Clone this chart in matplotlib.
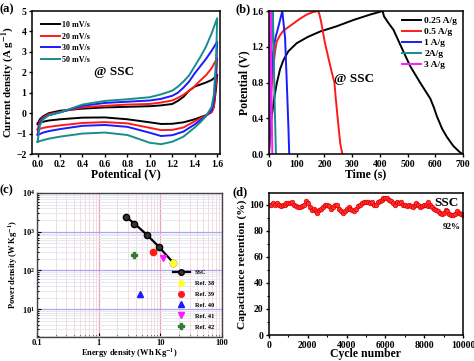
import numpy as np
import matplotlib
matplotlib.use("Agg")
import matplotlib.pyplot as plt
from matplotlib.ticker import MultipleLocator, LogLocator, NullFormatter

plt.rcParams['font.family'] = ['Liberation Serif', 'DejaVu Serif']
plt.rcParams['font.weight'] = 'bold'
plt.rcParams['axes.labelweight'] = 'bold'
plt.rcParams['mathtext.fontset'] = 'stix'

# ---- (a) CV curves ----
cv_rates = ['10 mV/s', '20 mV/s', '30 mV/s', '50 mV/s']
cv_colors = ['black', '#ff1a1a', '#1a1aff', '#1a8c8c']
v_fwd = [0, 0.02, 0.05, 0.1, 0.2, 0.4, 0.6, 0.8, 1.0, 1.1, 1.2, 1.25, 1.3, 1.35, 1.4, 1.45, 1.5, 1.55, 1.6]
v_rev = [1.6, 1.59, 1.57, 1.55, 1.5, 1.45, 1.4, 1.3, 1.2, 1.1, 1.0, 0.8, 0.6, 0.4, 0.2, 0.1, 0.05, 0]
i_fwd_10 = [-0.55, -0.3, -0.15, 0.0, 0.12, 0.22, 0.28, 0.31, 0.34, 0.38, 0.45, 0.6, 0.8, 1.1, 1.3, 1.4, 1.5, 1.62, 1.85]
i_fwd_20 = [-0.8, -0.4, -0.2, -0.05, 0.06, 0.28, 0.36, 0.42, 0.45, 0.52, 0.62, 0.75, 0.9, 1.1, 1.32, 1.6, 1.85, 2.2, 2.7]
i_fwd_30 = [-1.05, -0.5, -0.25, -0.1, 0.04, 0.36, 0.5, 0.56, 0.62, 0.7, 0.85, 1.0, 1.25, 1.55, 1.95, 2.3, 2.65, 3.05, 3.5]
i_fwd_50 = [-1.4, -0.6, -0.3, -0.1, 0.04, 0.42, 0.6, 0.68, 0.78, 0.92, 1.1, 1.3, 1.55, 1.85, 2.3, 2.75, 3.25, 3.9, 4.65]
i_rev_10 = [1.88, 1.2, 0.3, 0.05, -0.1, -0.2, -0.3, -0.45, -0.52, -0.53, -0.45, -0.3, -0.21, -0.22, -0.3, -0.36, -0.42, -0.5]
i_rev_20 = [2.7, 1.5, 0.3, 0.05, -0.12, -0.25, -0.4, -0.7, -0.82, -0.83, -0.72, -0.5, -0.44, -0.48, -0.6, -0.67, -0.72, -0.8]
i_rev_30 = [3.5, 2.0, 0.6, 0.15, -0.15, -0.35, -0.55, -0.9, -1.08, -1.12, -0.96, -0.67, -0.58, -0.62, -0.78, -0.88, -0.95, -1.07]
i_rev_50 = [4.65, 2.6, 0.9, 0.3, -0.15, -0.45, -0.7, -1.15, -1.4, -1.52, -1.45, -1.07, -0.95, -1.0, -1.15, -1.25, -1.32, -1.4]

# ---- (b) GCD curves ----
gcd_labels = ['0.25 A/g', '0.5 A/g', '1 A/g', '2A/g', '3 A/g']
gcd_colors = ['black', '#ff1a1a', '#1a1aff', '#1a8c8c', '#ff1aff']
t_025 = [0, 3, 8, 13, 20, 28, 40, 52, 70, 100, 140, 184, 245, 305, 365, 410,
         415, 430, 449, 480, 510, 545, 582, 595, 606, 625, 642, 665, 685, 697]
u_025 = [0, 0.2, 0.38, 0.49, 0.65, 0.79, 0.95, 1.05, 1.15, 1.24, 1.31, 1.37, 1.43, 1.5, 1.56, 1.6,
         1.54, 1.47, 1.39, 1.18, 0.98, 0.8, 0.62, 0.52, 0.42, 0.28, 0.19, 0.09, 0.03, 0.0]
t_05 = [0, 3, 8, 16, 22, 28, 40, 52, 70, 88, 110, 136, 160, 178,
        183, 188, 202, 214, 226, 236, 241, 245, 251, 257, 262, 265]
u_05 = [0, 0.35, 0.7, 0.98, 1.15, 1.26, 1.33, 1.38, 1.42, 1.46, 1.51, 1.56, 1.59, 1.6,
        1.55, 1.48, 1.24, 1.08, 0.92, 0.8, 0.62, 0.49, 0.3, 0.12, 0.04, 0.0]
t_1 = [0, 3, 7, 12, 18, 25, 32, 40, 48, 52, 58, 66, 70, 73]
u_1 = [0, 0.4, 0.75, 1.05, 1.22, 1.32, 1.4, 1.5, 1.6, 1.48, 1.3, 0.65, 0.3, 0.0]
t_2 = [0, 3, 7, 11, 14, 17, 21, 25]
u_2 = [0, 0.6, 1.1, 1.45, 1.6, 1.1, 0.5, 0.0]
t_3 = [0, 2, 4, 6, 8, 10, 12]
u_3 = [0, 0.7, 1.3, 1.6, 1.0, 0.45, 0.0]

# ---- (c) Ragone plot ----
ssc_energy = [2.75, 3.8, 6.1, 9.5, 16.2]
ssc_power = [2450, 1630, 830, 410, 160]
ref_names = ['Ref. 38', 'Ref. 39', 'Ref. 40', 'Ref. 41', 'Ref. 42']
ref_energy = [16.0, 7.5, 4.7, 11.1, 3.8]
ref_power = [155, 300, 24, 205, 250]
ref_markers = ['o', 'o', '^', 'v', 'P']
ref_colors = ['#ffff33', '#ff1a1a', '#1a1aff', '#ff1aff', '#2e7d32']

# ---- (d) cycling ----
cycles = np.arange(0, 10001, 100)
retention = [100, 100, 101, 100, 101, 100, 99, 100, 100, 101,
             101, 101, 102, 100, 99, 98, 98, 99, 100, 103,
             101, 98, 96, 97, 95, 94, 96, 97, 98, 100,
             100, 99, 97, 98, 100, 100, 97, 95, 94, 95,
             97, 98, 97, 96, 95, 97, 99, 100, 101, 102,
             102, 102, 101, 102, 100, 100, 102, 103, 104, 105,
             105, 105, 104, 103, 101, 100, 102, 101, 102, 100,
             100, 99, 100, 99, 98, 100, 101, 100, 98, 99,
             100, 100, 99, 100, 98, 97, 96, 95, 94, 93,
             94, 96, 95, 93, 92, 92, 93, 95, 94, 93, 92]

fig = plt.figure(figsize=(4.74, 3.61), dpi=100)

def style(ax, fs=7):
    for s in ax.spines.values():
        s.set_linewidth(1.1)
    ax.tick_params(direction='out', labelsize=fs, width=1, length=2.5, pad=1.5)
    for lab in ax.get_xticklabels() + ax.get_yticklabels():
        lab.set_fontweight('bold')

# (a)
ax1 = fig.add_axes([0.0675, 0.5734, 0.3966, 0.3961])
fwd = [i_fwd_10, i_fwd_20, i_fwd_30, i_fwd_50]
rev = [i_rev_10, i_rev_20, i_rev_30, i_rev_50]
for lab, c, f, r in zip(cv_rates, cv_colors, fwd, rev):
    ax1.plot(v_fwd + v_rev, f + r, color=c, lw=1.4, label=lab)
ax1.set_xlim(-0.05, 1.625)
ax1.set_ylim(-2, 5)
ax1.xaxis.set_major_locator(MultipleLocator(0.2))
ax1.yaxis.set_major_locator(MultipleLocator(1))
ax1.xaxis.set_major_formatter(plt.FormatStrFormatter('%.1f'))
ax1.set_xlabel('Potentical (V)', fontsize=8.5, labelpad=0)
ax1.set_ylabel('Current density (A g$^{\\mathbf{-1}}$)', fontsize=7.8, labelpad=0)
ax1.text(0.68, 2.0, '@ SSC', fontsize=9.5, fontweight='bold', ha='center', va='center')
ax1.legend(loc='upper left', frameon=False, fontsize=5.8, handlelength=2.3,
           labelspacing=0.45, borderaxespad=0.3, handletextpad=0.3,
           bbox_to_anchor=(0.02, 0.97))
style(ax1)

# (b)
ax2 = fig.add_axes([0.5675, 0.5734, 0.4093, 0.3961])
for lab, c, t, u in zip(gcd_labels, gcd_colors, [t_025, t_05, t_1, t_2, t_3], [u_025, u_05, u_1, u_2, u_3]):
    ax2.plot(t, u, color=c, lw=1.4, label=lab)
ax2.set_xlim(0, 700)
ax2.set_ylim(0, 1.6)
ax2.xaxis.set_major_locator(MultipleLocator(100))
ax2.yaxis.set_major_locator(MultipleLocator(0.4))
ax2.yaxis.set_major_formatter(plt.FormatStrFormatter('%.1f'))
ax2.set_xlabel('Time (s)', fontsize=8.5, labelpad=0)
ax2.set_ylabel('Potential (V)', fontsize=8.5, labelpad=1)
ax2.text(306, 0.84, '@ SSC', fontsize=9.5, fontweight='bold', ha='center', va='center')
ax2.legend(loc='upper right', frameon=False, fontsize=6.8, handlelength=2.0,
           labelspacing=0.25, borderaxespad=0.2, handletextpad=0.4)
style(ax2)

# (c)
ax3 = fig.add_axes([0.078, 0.066, 0.39, 0.3994])
ax3.set_xscale('log')
ax3.set_yscale('log')
ax3.set_xlim(0.1, 100)
ax3.set_ylim(1.9, 1e4)
ax3.xaxis.set_minor_locator(LogLocator(subs=np.arange(2, 10)))
ax3.yaxis.set_minor_locator(LogLocator(subs=np.arange(2, 10)))
ax3.xaxis.set_minor_formatter(NullFormatter())
ax3.yaxis.set_minor_formatter(NullFormatter())
ax3.set_xticks([0.1, 1, 10, 100])
ax3.set_xticklabels(['0.1', '1', '10', '100'])
ax3.grid(True, which='minor', axis='x', color='#f4d4dc', lw=0.6)
ax3.grid(True, which='minor', axis='y', color='#e4e4ee', lw=0.6)
ax3.grid(True, which='major', axis='x', color='#f0a0b0', lw=0.9)
ax3.grid(True, which='major', axis='y', color='#a8a8f0', lw=0.9)
ax3.set_axisbelow(True)
ax3.plot(ssc_energy, ssc_power, '-o', color='black', lw=1.6, ms=4.5,
         mfc='#333333', mec='black', label='SSC')
for n, e, p, m, c in zip(ref_names, ref_energy, ref_power, ref_markers, ref_colors):
    ax3.plot(e, p, m, color=c, ms=4.5, ls='none', label=n)
ax3.set_xlabel('Energy density (Wh Kg$^{\\mathbf{-1}}$)', fontsize=6, labelpad=-0.5)
ax3.set_ylabel('Power density (W Kg$^{\\mathbf{-1}}$)', fontsize=6, labelpad=1)
ax3.tick_params(which='both', direction='in', labelsize=6, width=0.8, pad=1.5)
ax3.tick_params(which='major', length=3)
ax3.tick_params(which='minor', length=1.5)
for s in ax3.spines.values():
    s.set_linewidth(1.0)
    s.set_color('#444444')
ax3.legend(loc='lower right', frameon=False, fontsize=4.6, handlelength=2.6,
           labelspacing=0.85, borderaxespad=0.8, markerscale=0.9)

# (d)
ax4 = fig.add_axes([0.5675, 0.072, 0.4093, 0.3934])
ax4.plot(cycles, retention, 'o', color='#ff3030', mec='#e00000', ms=3.3, mew=0.5, label='SSC')
ax4.set_xlim(0, 10000)
ax4.set_ylim(0, 109)
ax4.xaxis.set_major_locator(MultipleLocator(2000))
ax4.xaxis.set_minor_locator(MultipleLocator(1000))
ax4.yaxis.set_major_locator(MultipleLocator(20))
ax4.yaxis.set_minor_locator(MultipleLocator(10))
ax4.set_xlabel('Cycle number', fontsize=8.5, labelpad=-1)
ax4.set_ylabel('Capacitance retention (%)', fontsize=8.2, labelpad=1)
ax4.text(9430, 83, '92%', fontsize=6.5, fontweight='bold', ha='center', va='center')
ax4.legend(loc='upper right', frameon=False, fontsize=9.5, handletextpad=0.1,
           handlelength=0.8, borderaxespad=0.1, borderpad=0.2)
style(ax4)
ax4.tick_params(which='minor', direction='out', length=1.5, width=0.8)

fig.text(0.0, 0.975, '(a)', fontsize=9, fontweight='bold', va='center')
fig.text(0.497, 0.975, '(b)', fontsize=9, fontweight='bold', va='center')
fig.text(0.0, 0.472, '(c)', fontsize=9, fontweight='bold', va='center')
fig.text(0.49, 0.468, '(d)', fontsize=9, fontweight='bold', va='center')

fig.savefig('out.png', dpi=100)
